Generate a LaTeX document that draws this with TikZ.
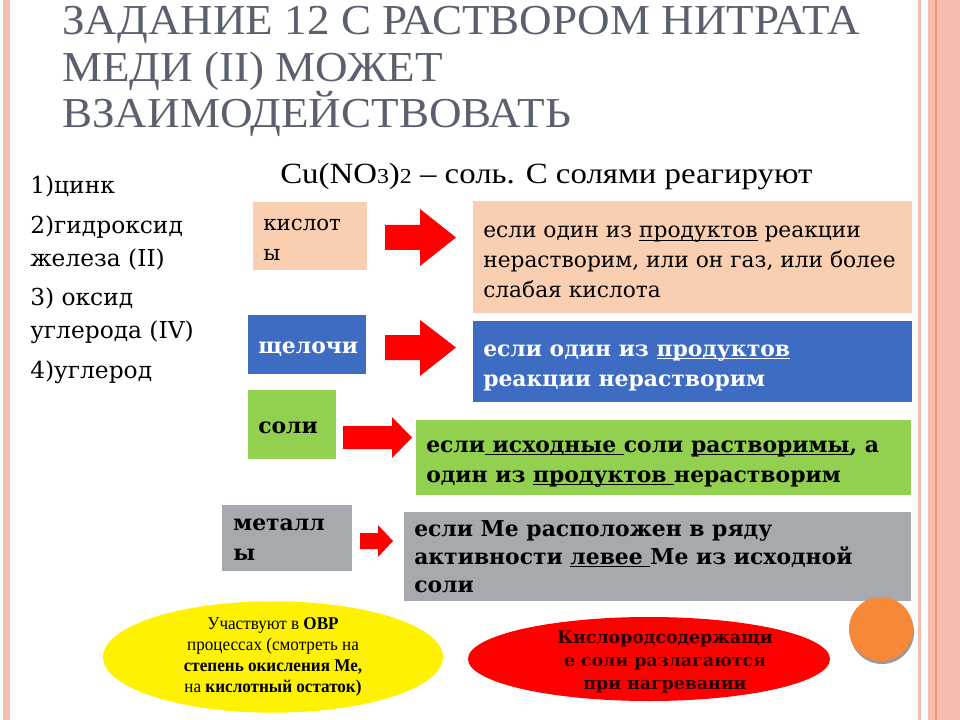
\documentclass[tikz,border=0pt]{standalone}
\usepackage{fontspec}
\setmainfont{DejaVu Serif}
\newfontfamily\titlefont[FakeStretch=1.057]{Liberation Serif}
\newfontfamily\saltfont[FakeStretch=1.12]{Liberation Serif}
\newfontfamily\narrowfont[FakeStretch=0.95]{Liberation Serif}
\usetikzlibrary{shapes.geometric}

\definecolor{titlegray}{RGB}{90,96,110}
\definecolor{peach}{RGB}{250,206,176}
\definecolor{boxblue}{RGB}{63,108,195}
\definecolor{boxgreen}{RGB}{146,208,80}
\definecolor{boxgray}{RGB}{166,169,173}
\definecolor{borderpink}{RGB}{245,190,172}
\definecolor{borderdark}{RGB}{236,150,112}
\definecolor{dotorange}{RGB}{247,136,55}
\definecolor{darkred}{RGB}{45,0,0}

% underline close to the baseline
\newcommand{\undl}[1]{\setbox0\hbox{#1}\rlap{\rule[-2.2pt]{\wd0}{0.7pt}}\box0\relax}

\tikzset{
  panel/.style={anchor=north west, inner sep=0pt},
  smalltext/.style={anchor=base west, inner sep=0pt, align=left,
    font=\fontsize{16}{22.5}\selectfont},
  bigtext/.style={anchor=base west, inner sep=0pt, align=left,
    font=\fontsize{16.3}{22.2}\selectfont},
  boldtext/.style={font=\bfseries\fontsize{16.4}{22.2}\selectfont},
  listitem/.style={anchor=base west, inner sep=0pt, align=left,
    font=\fontsize{17.5}{24.75}\selectfont},
  titleline/.style={anchor=base west, inner sep=0pt, text=titlegray,
    font=\titlefont\fontsize{32}{35}\selectfont},
  blockarrow/.style={fill=red},
  bubble/.style={ellipse, inner sep=0pt, align=center,
    font=\narrowfont\fontsize{13.5}{15.75}\selectfont}
}

\begin{document}
\begin{tikzpicture}[x=0.75pt,y=-0.75pt]
\useasboundingbox (0,0) rectangle (960,720);
\fill[white] (0,0) rectangle (960,720);
% border stripes
\fill[borderpink] (3,0) rectangle (10,720);
\fill[borderpink] (918,0) rectangle (921,720);
\fill[borderpink] (928,0) rectangle (960,720);
\fill[borderdark] (935,0) rectangle (937,720);

% title
\node[titleline] (title1) at (62,35) {ЗАДАНИЕ 12 С РАСТВОРОМ НИТРАТА};
\node[titleline] (title2) at (62,82) {МЕДИ (II) МОЖЕТ};
\node[titleline] (title3) at (62,128) {ВЗАИМОДЕЙСТВОВАТЬ};

\node[anchor=base west, inner sep=0pt, font=\saltfont\fontsize{22}{24}\selectfont]
  (salt) at (280,184) {Cu(NO{\fontsize{16}{16}\selectfont 3}){\fontsize{16}{16}\selectfont 2} – соль. С солями реагируют};

% answers
\node[listitem] (zinc) at (30,194) {1)цинк};
\node[listitem] (ironhyd) at (30,267) {2)гидроксид\\железа (II)};
\node[listitem] (carbox) at (30,339) {3) оксид\\углерода (IV)};
\node[listitem] (carbon) at (30,378) {4)углерод};

% left boxes
\node[panel, fill=peach, minimum width=85.5pt, minimum height=51pt] (acidbox) at (253,202) {};
\node[smalltext] (acids) at ([shift={(10,59)}]acidbox.north west) {кислот\\ы};
\node[panel, fill=boxblue, minimum width=88.5pt, minimum height=44.25pt] (alkalibox) at (248,315) {};
\node[smalltext, boldtext, text=white] (alkali) at ([shift={(10,38)}]alkalibox.north west) {щелочи};
\node[panel, fill=boxgreen, minimum width=66pt, minimum height=51.75pt] (saltbox) at (248,390) {};
\node[smalltext, boldtext] (salts) at ([shift={(10,43)}]saltbox.north west) {соли};
\node[panel, fill=boxgray, minimum width=97.5pt, minimum height=49.5pt] (metalbox) at (222,505) {};
\node[smalltext, boldtext] (metals) at ([shift={(11,55)}]metalbox.north west) {металл\\ы};

% right boxes
\node[panel, fill=peach, minimum width=329.25pt, minimum height=84pt] (acidrulebox) at (473,201) {};
\node[bigtext] (acidrule) at ([shift={(10,96)}]acidrulebox.north west)
  {если один из \undl{продуктов} реакции\\нерастворим, или он газ, или более\\слабая кислота};
\node[panel, fill=boxblue, minimum width=329.25pt, minimum height=60.75pt] (alkalirulebox) at (473,321) {};
\node[bigtext, boldtext, text=white] (alkalirule) at ([shift={(10,65)}]alkalirulebox.north west)
  {если один из \undl{продуктов}\\реакции нерастворим};
\node[panel, fill=boxgreen, minimum width=371.25pt, minimum height=56.25pt] (saltrulebox) at (416,420) {};
\node[bigtext, boldtext] (saltrule) at ([shift={(10,62)}]saltrulebox.north west)
  {если\undl{ исходные }соли \undl{растворимы}, а\\один из \undl{продуктов }нерастворим};
\node[panel, fill=boxgray, minimum width=380.25pt, minimum height=66.75pt] (metalrulebox) at (404,512) {};
\node[bigtext, font=\bfseries\fontsize{16.4}{20.8}\selectfont] (metalrule) at ([shift={(10,80)}]metalrulebox.north west)
  {если Ме расположен в ряду\\активности \undl{левее }Ме из исходной\\соли};

% arrows
\fill[blockarrow] (385,225) -- (420,225) -- (420,209) -- (456,237.5) -- (420,266) -- (420,250) -- (385,250) -- cycle;
\fill[blockarrow] (385,335) -- (420,335) -- (420,320) -- (456,347.5) -- (420,376) -- (420,360) -- (385,360) -- cycle;
\fill[blockarrow] (343,426) -- (392,426) -- (392,417) -- (412,437.5) -- (392,458) -- (392,449) -- (343,449) -- cycle;
\fill[blockarrow] (360,533) -- (378,533) -- (378,525) -- (393,541) -- (378,557) -- (378,549) -- (360,549) -- cycle;

% bubbles
\node[bubble, fill=yellow, minimum width=255pt, minimum height=78pt] (redox) at (273,657)
  {Участвуют в \textbf{ОВР}\\процессах (смотреть на\\\textbf{степень окисления Ме,}\\на \textbf{кислотный остаток)}};
\node[bubble, fill=red, minimum width=271.5pt, minimum height=63pt] (heating) at (649,659) {};
\node[align=center, inner sep=0pt, text=darkred, font=\bfseries\fontsize{13}{17.6}\selectfont]
  (heattext) at ([shift={(16,3)}]heating.center) {Кислородсодержащи\\е соли разлагаются\\при нагревании};
\fill[gray!80] (882,632) circle (32);
\node[circle, fill=dotorange, minimum size=48pt, inner sep=0pt] (dot) at (881,629) {};
\end{tikzpicture}
\end{document}
